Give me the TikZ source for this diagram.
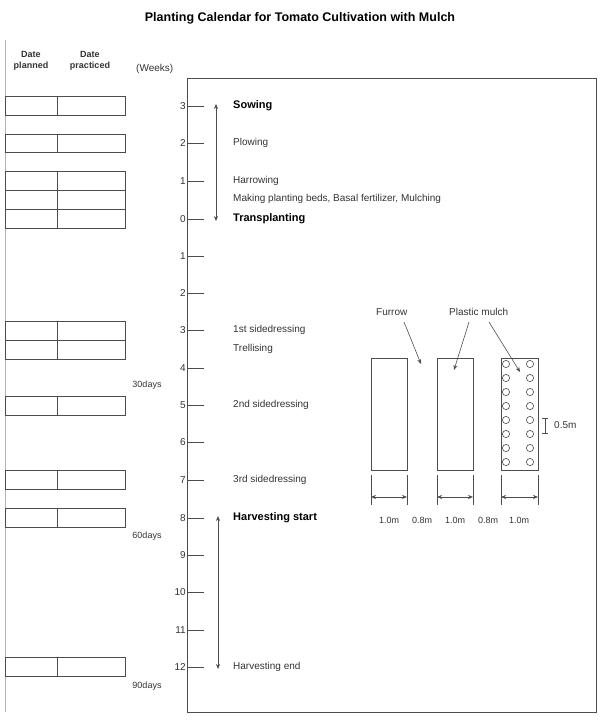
\documentclass[tikz,border=0pt]{standalone}
\usepackage{fontspec}
\setmainfont{Liberation Sans}
\usetikzlibrary{arrows.meta}
\begin{document}
\begin{tikzpicture}[x=1pt,y=-1pt,
 lbl/.style={anchor=west,inner sep=0pt,font=\fontsize{10}{12}\selectfont,text=black!80},
 blbl/.style={anchor=west,inner sep=0pt,font=\fontsize{11}{13}\selectfont\bfseries},
 wk/.style={anchor=east,inner sep=0pt,font=\fontsize{10}{12}\selectfont,text=black!80},
 sm/.style={inner sep=0pt,font=\fontsize{9}{11}\selectfont,text=black!80},
 ln/.style={draw=black!70,line width=0.7pt},
 arr/.style={draw=black!70,line width=0.6pt,-{Stealth[length=5pt,width=4pt]}},
 darr/.style={draw=black!70,line width=0.6pt,{Stealth[length=5pt,width=4pt]}-{Stealth[length=5pt,width=4pt]}}]
\useasboundingbox (0,0) rectangle (602,720);
\node[font=\fontsize{12.5}{15}\selectfont\bfseries] (title) at (300,18) {Planting Calendar for Tomato Cultivation with Mulch};
\draw[black!30] (5,40) -- (5,712);
\node[align=center,font=\fontsize{9}{11}\selectfont\bfseries,text=black!80] (h1) at (31,61) {Date\\planned};
\node[align=center,font=\fontsize{9}{11}\selectfont\bfseries,text=black!80] (h2) at (90,61) {Date\\practiced};
\node[lbl] (wks) at (136,69) {(Weeks)};
\draw[ln] (187,78) rectangle (596,712);
% ticks
\foreach \n/\y [count=\i] in {3/106,2/143,1/181,0/219,1/256,2/293,3/330,4/368,5/405,6/442,7/480,8/518,9/555,10/592,11/630,12/667}{
  \node[wk] (w\i) at (186,\y) {\n};
  \draw[ln] (187,\y) -- (204,\y);
}
% table rows
\foreach \a/\b in {96/115,134/152,171/190,190/209,209/228,321/340,340/359,396/415,470/489,508/527,657/676}{
  \draw[ln] (5,\a) rectangle (125,\b);
  \draw[ln] (57,\a) -- (57,\b);
}
\node[sm] (d30) at (147,385) {30days};
\node[sm] (d60) at (147,536) {60days};
\node[sm] (d90) at (147,686) {90days};
\coordinate (a1) at (216,104); \coordinate (a2) at (216,221);
\draw[darr] (a1) -- (a2);
\coordinate (b1) at (218,516); \coordinate (b2) at (218,669);
\draw[darr] (b1) -- (b2);
\node[blbl] (sow) at (233,106) {Sowing};
\node[lbl] (plo) at (233,143) {Plowing};
\node[lbl] (har) at (233,181) {Harrowing};
\node[lbl] (mak) at (233,199) {Making planting beds, Basal fertilizer, Mulching};
\node[blbl] (tra) at (233,219) {Transplanting};
\node[lbl] (s1) at (233,330) {1st sidedressing};
\node[lbl] (tre) at (233,349) {Trellising};
\node[lbl] (s2) at (233,405) {2nd sidedressing};
\node[lbl] (s3) at (233,480) {3rd sidedressing};
\node[blbl] (hs) at (233,518) {Harvesting start};
\node[lbl] (he) at (233,667) {Harvesting end};
% beds
\node[draw=black!70,line width=0.7pt,minimum width=36pt,minimum height=112pt,inner sep=0pt] (r1) at (389,414) {};
\node[draw=black!70,line width=0.7pt,minimum width=36pt,minimum height=112pt,inner sep=0pt] (r2) at (455,414) {};
\node[draw=black!70,line width=0.7pt,minimum width=37pt,minimum height=112pt,inner sep=0pt] (r3) at (519.5,414) {};
\foreach \k in {0,...,7}{
  \draw[black!70,line width=0.6pt] (506,364+14*\k) circle (3.6);
  \draw[black!70,line width=0.6pt] (530,364+14*\k) circle (3.6);
}
\node[lbl] (fur) at (376,312) {Furrow};
\node[lbl] (pm) at (449,312) {Plastic mulch};
\coordinate (f1) at (421,364); \coordinate (p1) at (454,370); \coordinate (p2) at (520,372);
\draw[arr] (404,322) -- (f1);
\draw[arr] (469,322) -- (p1);
\draw[arr] (489,322) -- (p2);
\draw[ln] (545,418) -- (545,433) (542,418) -- (548,418) (542,433) -- (548,433);
\node[lbl] (h05) at (554,425) {0.5m};
\foreach \xa/\xb in {371/407,437/473,501/538}{
  \draw[ln] (\xa,475) -- (\xa,505) (\xb,475) -- (\xb,505);
  \draw[darr] (\xa,497) -- (\xb,497);
}
\foreach \x/\t in {389/1.0m,422/0.8m,455/1.0m,488/0.8m,519/1.0m}{
  \node[sm] at (\x,520) {\t};
}
\end{tikzpicture}
\end{document}
